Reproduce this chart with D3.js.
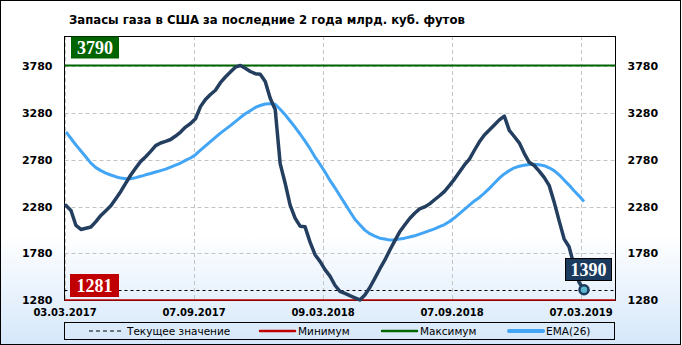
<!DOCTYPE html>
<html><head><meta charset="utf-8">
<script src="https://cdn.jsdelivr.net/npm/d3@7"></script>
<style>body{margin:0;background:#fff}svg{display:block}</style>
</head><body>
<script>
const titleText = "Запасы газа в США за последние 2 года млрд. куб. футов";
const dateLabels = ["03.03.2017","07.09.2017","09.03.2018","07.09.2018","07.03.2019"];
const yTicks = [1280,1780,2280,2780,3280,3780];
const storage = [2292,2238,2078,2035,2048,2061,2119,2185,2236,2289,
 2365,2442,2532,2618,2693,2764,2814,2871,2933,2961,
 2978,2998,3035,3078,3131,3169,3220,3350,3427,3480,
 3525,3606,3667,3720,3772,3790,3760,3726,3703,3697,
 3620,3440,3320,2740,2530,2295,2157,2070,2063,1900,
 1765,1694,1605,1535,1438,1373,1350,1326,1304,1281,
 1333,1414,1511,1612,1706,1812,1913,2010,2082,2153,
 2209,2255,2276,2309,2353,2396,2443,2507,2574,2651,
 2726,2789,2883,2973,3047,3100,3154,3208,3248,3096,
 3030,2962,2850,2754,2720,2660,2593,2507,2330,2130,
 1935,1850,1650,1470,1390];
const ema26 = [3079,3009,2939,2875,2811,2745,2697,2665,2639,2618,
 2600,2585,2578,2578,2590,2604,2620,2634,2650,2665,
 2681,2702,2724,2746,2775,2800,2836,2885,2930,2975,
 3020,3066,3107,3147,3190,3233,3273,3307,3341,3362,
 3378,3382,3375,3322,3263,3196,3129,3057,2980,2900,
 2810,2733,2650,2560,2481,2396,2312,2228,2145,2085,
 2028,1990,1963,1942,1932,1921,1925,1932,1942,1954,
 1967,1985,2004,2023,2042,2065,2088,2120,2160,2205,
 2250,2295,2340,2378,2425,2475,2530,2585,2630,2665,
 2695,2712,2722,2731,2732,2727,2718,2695,2665,2620,
 2565,2510,2450,2395,2335];
const legendItems = ["Текущее значение","Минимум","Максимум","EMA(26)"];

const W=682,H=345;
const L=64.5,R=615.5,T=36,B=300;
const svg=d3.select("body").append("svg").attr("width",W).attr("height",H);
const defs=svg.append("defs");
const g=defs.append("linearGradient").attr("id","bg").attr("x1",0).attr("y1",0).attr("x2",0).attr("y2",1);
g.append("stop").attr("offset","0").attr("stop-color","#ffffff");
g.append("stop").attr("offset","0.68").attr("stop-color","#ffffff");
g.append("stop").attr("offset","1").attr("stop-color","#d5e7fa");
svg.append("rect").attr("x",0.5).attr("y",0.5).attr("width",W-2).attr("height",H-1).attr("fill","url(#bg)").attr("stroke","#000");

const x=d3.scaleLinear().domain([0,storage.length-1]).range([66,584]);
const xl=d3.scalePoint().domain(dateLabels).range([64.5,580.5]);
const y=d3.scaleLinear().domain([1280,4106]).range([B,T]);

svg.append("text").attr("x",69).attr("y",24).attr("font-family","DejaVu Sans").attr("font-weight","bold").attr("font-size","11.7px").attr("fill","#000").text(titleText);

// grid
svg.append("g").selectAll("line").data(yTicks).join("line")
 .attr("x1",L).attr("x2",R).attr("y1",d=>Math.round(y(d))+0.5).attr("y2",d=>Math.round(y(d))+0.5)
 .attr("stroke","#c4c4c4").attr("stroke-dasharray","4,3");
svg.append("g").selectAll("line").data(dateLabels).join("line")
 .attr("x1",d=>Math.round(xl(d))+0.5).attr("x2",d=>Math.round(xl(d))+0.5).attr("y1",T).attr("y2",B)
 .attr("stroke","#c4c4c4").attr("stroke-dasharray","4,3");

svg.append("rect").attr("x",L).attr("y",T+0.5).attr("width",R-L).attr("height",B-T).attr("fill","none").attr("stroke","#000");

const font="DejaVu Sans";
// y axis labels left and right
const fmt=d3.format("d");
const yAxL=d3.axisLeft(y).tickValues(yTicks).tickFormat(fmt).tickSize(0).tickPadding(12);
const gl=svg.append("g").attr("transform",`translate(${L},0)`).call(yAxL);
const yAxR=d3.axisRight(y).tickValues(yTicks).tickFormat(fmt).tickSize(0).tickPadding(12);
const gr=svg.append("g").attr("transform",`translate(${R},0)`).call(yAxR);
[gl,gr].forEach(a=>{a.select(".domain").remove();a.selectAll("text").attr("font-family",font).attr("font-weight","bold").attr("font-size","11px").attr("fill","#000");});
// x labels
const xAx=d3.axisBottom(xl).tickSize(0).tickPadding(9);
const gx=svg.append("g").attr("transform",`translate(0,${B})`).call(xAx);
gx.select(".domain").remove();
gx.selectAll("text").attr("font-family",font).attr("font-weight","bold").attr("font-size","10px").attr("fill","#000");

const maxV=d3.max(storage),minV=d3.min(storage),curV=storage[storage.length-1];
// reference lines
svg.append("line").attr("x1",L).attr("x2",R).attr("y1",y(maxV)).attr("y2",y(maxV)).attr("stroke","#006400").attr("stroke-width",2);
svg.append("line").attr("x1",L).attr("x2",R).attr("y1",y(minV)).attr("y2",y(minV)).attr("stroke","#c00000").attr("stroke-width",1.5);
svg.append("line").attr("x1",L).attr("x2",R).attr("y1",Math.round(y(curV))+0.5).attr("y2",Math.round(y(curV))+0.5).attr("stroke","#000").attr("stroke-dasharray","3,3");

const line=d3.line().x((d,i)=>x(i)).y(d=>y(d));
svg.append("path").datum(ema26).attr("d",line).attr("fill","none").attr("stroke","#42a5f5").attr("stroke-width",3).attr("stroke-linejoin","round");
svg.append("path").datum(storage).attr("d",line).attr("fill","none").attr("stroke","#233e5e").attr("stroke-width",3.5).attr("stroke-linejoin","round").attr("stroke-linecap","round");

// value boxes
function box(x0,y0,w,h,fill,txt,stroke){
 svg.append("rect").attr("x",x0).attr("y",y0).attr("width",w).attr("height",h).attr("fill",fill).attr("stroke",stroke||"none");
 svg.append("text").attr("x",x0+w/2).attr("y",y0+h/2+6).attr("text-anchor","middle").attr("font-family","Liberation Serif").attr("font-weight","bold").attr("font-size","18px").attr("fill","#fff").text(txt);
}
box(71,36.5,48,22,"#006400",maxV);
box(70,274,49,23,"#c00000",minV);
box(565.5,258.5,46,22,"#1b3a5e",curV,"#000");
svg.append("circle").attr("cx",x(storage.length-1)).attr("cy",y(curV)).attr("r",4.5).attr("fill","#5bb7cf").attr("stroke","#1b3a5e").attr("stroke-width",2.5);

// legend
svg.append("rect").attr("x",64.5).attr("y",322.5).attr("width",550).attr("height",17).attr("fill","none").attr("stroke","#000");
const ly=331;
const lg=svg.append("g");
const samples=[{x1:89,x2:124,c:"#000",w:1,dash:"4,3"},{x1:260,x2:295,c:"#c00000",w:2.5},{x1:382,x2:417,c:"#006400",w:2.5},{x1:509,x2:543,c:"#42a5f5",w:4}];
const textX=[127,298,420,546];
legendItems.forEach((t,i)=>{
 const s=samples[i];
 lg.append("line").attr("x1",s.x1).attr("x2",s.x2).attr("y1",ly).attr("y2",ly).attr("stroke",s.c).attr("stroke-width",s.w).attr("stroke-dasharray",s.dash||null).attr("stroke-linecap",s.dash?"butt":"round");
 lg.append("text").attr("x",textX[i]).attr("y",ly+4).attr("font-family",font).attr("font-size","10.5px").attr("fill","#000").text(t);
});
</script>
</body></html>
